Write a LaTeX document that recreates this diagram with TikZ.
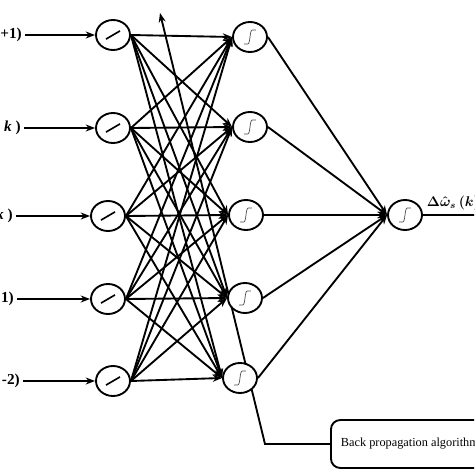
\documentclass[tikz,border=0pt]{standalone}
\usepackage{fontspec}
\setmainfont{Liberation Serif}
\usepackage{amsmath}
\usetikzlibrary{shapes.geometric,arrows.meta}

\begin{document}
\begin{tikzpicture}[x=0.03cm, y=-0.03cm, line width=1.6pt, >={Stealth[length=8pt,width=6pt]}]
        \tikzstyle{every node}=[inner sep=0pt]
        \tikzstyle{neuron}=[ellipse, draw, fill=white, minimum width=1.02cm, minimum height=0.9cm]
        \tikzstyle{lin}=[neuron, path picture={\draw[line width=1.4pt] ([xshift=-6pt,yshift=-3.5pt]path picture bounding box.center) -- ++(12pt,7pt);}]
        \tikzstyle{sig}=[neuron, path picture={\draw[line width=0.6pt, black!70] ([xshift=-5pt,yshift=-6pt]path picture bounding box.center) -- ++(3pt,0pt) .. controls +(2.5pt,0pt) and +(-2.5pt,0pt) .. ++(4pt,12pt) -- ++(3pt,0pt);}]
        \tikzstyle{lbl}=[inner xsep=2pt, font=\bfseries\fontsize{13}{13}\selectfont]
        \clip (0,0) rectangle (474,474);
        % back propagation box and the weight update arrow
        \node[draw, rounded corners=8pt, anchor=west, minimum height=1.44cm, inner xsep=8.5pt, font=\fontsize{10.5}{10.5}\selectfont] (bp) at (330,444) {Back propagation algorithm};
        \coordinate (bend) at (265,444);
        \coordinate (wtip) at (160,13);
        \draw[->] (bp.west) -- (bend) -- (wtip);
        % inputs
        \node[lbl, anchor=east] (x1) at (25,35) {+1)};
        \node[lbl, anchor=east] (x2) at (24,128) {\textit{k} )};
        \node[lbl, anchor=east] (x3) at (16,216) {\textit{k} )};
        \node[lbl, anchor=east] (x4) at (17,299) {1)};
        \node[lbl, anchor=east] (x5) at (23,381) {-2)};
        \node[lin] (i1) at (113,35) {};
        \node[lin] (i2) at (113,128) {};
        \node[lin] (i3) at (108,216) {};
        \node[lin] (i4) at (108,299) {};
        \node[lin] (i5) at (113,381) {};
        % hidden layer
        \node[sig] (h1) at (250,37) {};
        \node[sig] (h2) at (250,127) {};
        \node[sig] (h3) at (246,215) {};
        \node[sig] (h4) at (245,298) {};
        \node[sig] (h5) at (240,378) {};
        % output
        \node[sig] (o) at (405,215) {};
        \coordinate (oend) at (480,215);
        \node[anchor=base west, font=\fontsize{12}{12}\selectfont] (olbl) at (426,206) {$\boldsymbol{\Delta\hat{\omega}_s\,(k)}$};
        \draw (o.east) -- (oend);
        \foreach \i in {1,...,5} {
            \draw[->] (x\i.east) -- (i\i.west);
            \foreach \j in {1,...,5}
                \draw[->] (i\i.east) -- (h\j.west);
            \draw[->] (h\i.east) -- (o.west);
        }
    \end{tikzpicture}
\end{document}
